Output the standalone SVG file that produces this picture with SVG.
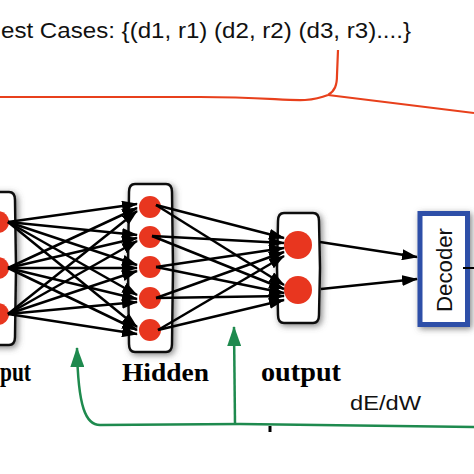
<svg xmlns="http://www.w3.org/2000/svg" width="474" height="474" viewBox="0 0 474 474">
<style>
.box{fill:#fff;stroke:#111;stroke-width:2.5}
.node{fill:#e8361f}
.w{stroke:#000;stroke-width:2.5;fill:none;marker-end:url(#ah)}
.g{stroke:#1e8a4e;stroke-width:2.5;fill:none}
.lbl{font-family:"Liberation Serif","Times New Roman",serif;font-weight:bold;fill:#000}
.sans{font-family:"Liberation Sans",Arial,sans-serif;fill:#111}
</style>
<defs>
<marker id="ah" viewBox="0 0 16 11" refX="15" refY="5.5" markerWidth="16" markerHeight="11" markerUnits="userSpaceOnUse" orient="auto"><path d="M0,0 L16,5.5 L0,11 z" fill="#000"/></marker>
<marker id="gh" viewBox="0 0 20 14" refX="19" refY="7" markerWidth="20" markerHeight="14" markerUnits="userSpaceOnUse" orient="auto"><path d="M0,0 L20,7 L0,14 z" fill="#1e8a4e"/></marker>
<filter id="sh" x="-40%" y="-20%" width="180%" height="140%"><feDropShadow dx="2" dy="2" stdDeviation="3" flood-color="#555" flood-opacity="0.7"/></filter>
</defs>

<text class="sans" x="1" y="38" font-size="22" textLength="410" lengthAdjust="spacingAndGlyphs">est Cases: {(d1, r1) (d2, r2) (d3, r3)....}</text>

<g id="red-brace" fill="none" stroke="#e8401c" stroke-width="2.2">
<path d="M0,97 L200,97 C260,97 288,101 305,100 C318,99 323,97 328,95"/>
<path d="M328,95 C335,91 337,85 337,75 L338,50"/>
<path d="M328,95 L474,113"/>
</g>

<g id="input">
<path class="box" filter="url(#sh)" d="M-30,192 L9,192 Q15,192 15,200 L16,268 L15,337 Q15,345 9,345 L-30,345 z"/>
<circle class="node" cx="-2" cy="222" r="11"/>
<circle class="node" cx="-2" cy="268" r="11"/>
<circle class="node" cx="-2" cy="314" r="11"/>
</g>

<g id="hidden">
<path class="box" filter="url(#sh)" d="M135,184 L166,184 Q172,184 172,192 L173,268 L172,344 Q172,352 166,352 L135,352 Q129,352 129,344 L128,268 L129,192 Q129,184 135,184 z"/>
<circle class="node" cx="150" cy="207" r="11"/>
<circle class="node" cx="150" cy="237" r="11"/>
<circle class="node" cx="150" cy="267" r="11"/>
<circle class="node" cx="150" cy="298" r="11"/>
<circle class="node" cx="150" cy="330" r="11"/>
</g>

<g id="output">
<path class="box" filter="url(#sh)" d="M284,213 L313,213 Q319,213 319,221 L320,268 L319,315 Q319,323 313,323 L284,323 Q278,323 278,315 L277,268 L278,221 Q278,213 284,213 z"/>
<circle class="node" cx="298" cy="245" r="14"/>
<circle class="node" cx="298" cy="290" r="14"/>
</g>

<g id="decoder">
<rect x="420" y="213.5" width="47.5" height="111" fill="#fff" stroke="#2f4fa8" stroke-width="5" filter="url(#sh)"/>
<text class="sans" transform="translate(452,270) rotate(-90)" text-anchor="middle" font-size="22" textLength="84" lengthAdjust="spacingAndGlyphs">Decoder</text>
<line x1="463" y1="268" x2="474" y2="268" stroke="#000" stroke-width="2"/>
</g>

<g id="connectors">
<path class="w" d="M8,222 L137,204"/>
<path class="w" d="M8,222 L137,235"/>
<path class="w" d="M8,222 L137,265"/>
<path class="w" d="M8,222 L137,295"/>
<path class="w" d="M8,222 L137,327"/>
<path class="w" d="M8,268 L137,208"/>
<path class="w" d="M8,268 L137,238"/>
<path class="w" d="M8,268 L137,268"/>
<path class="w" d="M8,268 L137,299"/>
<path class="w" d="M8,268 L137,330"/>
<path class="w" d="M8,314 L137,211"/>
<path class="w" d="M8,314 L137,241"/>
<path class="w" d="M8,314 L137,271"/>
<path class="w" d="M8,314 L137,302"/>
<path class="w" d="M8,314 L137,334"/>

<path class="w" d="M156,205 L284,238"/>
<path class="w" d="M156,205 L284,285"/>
<path class="w" d="M152,236 L284,243"/>
<path class="w" d="M152,236 L284,289"/>
<path class="w" d="M156,267 L284,248"/>
<path class="w" d="M156,267 L284,293"/>
<path class="w" d="M156,298 L284,252"/>
<path class="w" d="M156,298 L284,296"/>
<path class="w" d="M158,330 L284,256"/>
<path class="w" d="M158,330 L284,300"/>

<path class="w" d="M320,242 L417,257"/>
<path class="w" d="M321,289 L417,279"/>

<path class="g" marker-end="url(#gh)" d="M474,427 L240,424 L100,425 C86,425 78,408 77,348"/>
<path class="g" marker-end="url(#gh)" d="M235,424 L234,327"/>
<line x1="270" y1="426" x2="270" y2="432" stroke="#000" stroke-width="3"/>
</g>

<text class="lbl" x="0" y="381" font-size="27" textLength="31" lengthAdjust="spacingAndGlyphs">put</text>
<text class="lbl" x="122" y="381" font-size="26" textLength="87" lengthAdjust="spacingAndGlyphs">Hidden</text>
<text class="lbl" x="261" y="381" font-size="27" textLength="80" lengthAdjust="spacingAndGlyphs">output</text>
<text class="sans" x="350" y="410" font-size="20" textLength="71" lengthAdjust="spacingAndGlyphs">dE/dW</text>
</svg>
